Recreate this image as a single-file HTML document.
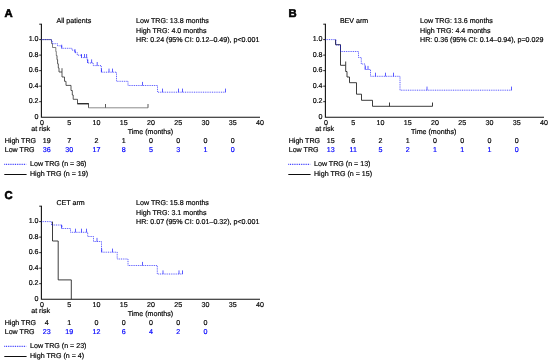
<!DOCTYPE html>
<html><head><meta charset="utf-8"><title>Figure</title>
<style>
html,body{margin:0;padding:0;background:#fff}
svg{display:block;font-family:"Liberation Sans",Arial,sans-serif;font-size:7.1px}
text{stroke:#000;stroke-width:.18px;text-rendering:geometricPrecision}
text.b{fill:#00f;stroke:#00f}
text.L{stroke-width:.6px}
</style></head><body>
<svg width="550" height="362" viewBox="0 0 550 362">
<rect width="550" height="362" fill="#fff"/>
<g>
<g transform="translate(0,0)">
<text x="4.5" y="17.1" font-weight="bold" class="L" font-size="11.3">A</text>
<text x="56.5" y="23.4">All patients</text>
<text x="136.1" y="23.4">Low TRG: 13.8 months</text>
<text x="136.1" y="32.6">High TRG: 4.0 months</text>
<text x="136.1" y="41.8">HR: 0.24 (95% CI: 0.12–0.49), p&lt;0.001</text>
<path d="M41.4 23.8V117.2H260" fill="none" stroke="#111" stroke-width="1.1"/>
<path d="M39.199999999999996 24.2H41.4" stroke="#111" stroke-width="0.9"/>
<text x="38.5" y="118.9" text-anchor="end">0</text>
<path d="M39.199999999999996 101.68H41.4" stroke="#111" stroke-width="0.9"/>
<text x="38.5" y="103.4" text-anchor="end">0.2</text>
<path d="M39.199999999999996 86.16H41.4" stroke="#111" stroke-width="0.9"/>
<text x="38.5" y="87.9" text-anchor="end">0.4</text>
<path d="M39.199999999999996 70.64H41.4" stroke="#111" stroke-width="0.9"/>
<text x="38.5" y="72.3" text-anchor="end">0.6</text>
<path d="M39.199999999999996 55.12H41.4" stroke="#111" stroke-width="0.9"/>
<text x="38.5" y="56.8" text-anchor="end">0.8</text>
<path d="M39.199999999999996 39.60H41.4" stroke="#111" stroke-width="0.9"/>
<text x="38.5" y="41.3" text-anchor="end">1.0</text>
<text x="41.9" y="125.3" text-anchor="middle">0</text>
<text x="69.2" y="125.3" text-anchor="middle">5</text>
<text x="96.4" y="125.3" text-anchor="middle">10</text>
<text x="123.7" y="125.3" text-anchor="middle">15</text>
<text x="150.9" y="125.3" text-anchor="middle">20</text>
<text x="178.2" y="125.3" text-anchor="middle">25</text>
<text x="205.4" y="125.3" text-anchor="middle">30</text>
<text x="232.7" y="125.3" text-anchor="middle">35</text>
<text x="259.9" y="125.3" text-anchor="middle">40</text>
<text x="31.2" y="131.4">at risk</text>
<text x="127.7" y="134.1">Time (months)</text>
<path d="M41.4 39.6L51.5 39.6L51.5 43.6L52.5 43.6L52.5 47.5L55.8 47.5L55.8 51.5L56.3 51.5L56.3 55.5L57.0 55.5" fill="none" stroke="#4a4a4a" stroke-width="0.7"/>
<path d="M57.0 55.5L57.0 59.7L57.6 59.7L57.6 63.8L58.3 63.8L58.3 67.9L59.0 67.9L59.0 72.0L62.0 72.0L62.0 77.0L64.5 77.0L64.5 81.3L66.0 81.3L66.0 85.4L71.0 85.4L71.0 90.5L72.3 90.5L72.3 95.0L73.2 95.0L73.2 99.3L77.5 99.3L77.5 103.5L88.5 103.5L88.5 107.8" fill="none" stroke="#222" stroke-width="0.75"/>
<path d="M62.0 72.0v-3.8M105.5 107.8v-3.8M148.0 107.8v-3.8" fill="none" stroke="#222" stroke-width="0.75"/>
<path d="M41.4 39.6L51.5 39.6L51.5 41.7L52.6 41.7L52.6 43.7L57.5 43.7L57.5 45.8L61.7 45.8L61.7 48.3L72.0 48.3L72.0 50.2L75.0 50.2L75.0 52.7L77.3 52.7L77.3 55.2L81.5 55.2L81.5 57.6L87.2 57.6L87.2 60.2L87.7 60.2L87.7 63.0L93.3 63.0L93.3 65.6L101.3 65.6L101.3 72.2L116.5 72.2L116.5 81.3L128.0 81.3L128.0 85.5L157.5 85.5L157.5 92.2L225.5 92.2L225.5 92.2" fill="none" stroke="#0000ff" stroke-width="0.9" stroke-dasharray="1 0.8" opacity="0.72"/>
<path d="M61.7 48.3v-3.6M75.1 52.9v-3.6M81.5 57.6v-3.6M84.5 57.6v-3.6M86.6 57.6v-3.6M87.7 63.0v-3.6M91.6 63.0v-3.6M97.2 65.6v-3.6M101.5 72.2v-3.6M109.0 72.2v-3.6M112.5 72.2v-3.6M142.5 85.5v-3.6M162.5 92.2v-3.6M178.5 92.2v-3.6M182.5 92.2v-3.6M225.5 92.2v-3.6" fill="none" stroke="#0000ff" stroke-width="0.8" opacity="0.8"/>
<path d="M88.5 107.8H148" fill="none" stroke="#666" stroke-width="0.75"/>
<path d="M77.3 103.8H88.7" fill="none" stroke="#222" stroke-width="1.2"/>
<text x="4.7" y="142.7">High TRG</text>
<text x="4.7" y="151.7">Low TRG</text>
<text x="46.7" y="142.7" text-anchor="middle">19</text>
<text x="46.7" y="151.7" text-anchor="middle" class="b">36</text>
<text x="69.2" y="142.7" text-anchor="middle">7</text>
<text x="69.2" y="151.7" text-anchor="middle" class="b">30</text>
<text x="96.4" y="142.7" text-anchor="middle">2</text>
<text x="96.4" y="151.7" text-anchor="middle" class="b">17</text>
<text x="123.7" y="142.7" text-anchor="middle">1</text>
<text x="123.7" y="151.7" text-anchor="middle" class="b">8</text>
<text x="150.9" y="142.7" text-anchor="middle">0</text>
<text x="150.9" y="151.7" text-anchor="middle" class="b">5</text>
<text x="178.2" y="142.7" text-anchor="middle">0</text>
<text x="178.2" y="151.7" text-anchor="middle" class="b">3</text>
<text x="205.4" y="142.7" text-anchor="middle">0</text>
<text x="205.4" y="151.7" text-anchor="middle" class="b">1</text>
<text x="232.7" y="142.7" text-anchor="middle">0</text>
<text x="232.7" y="151.7" text-anchor="middle" class="b">0</text>
<path d="M4.3 164.3H26.2" stroke="#0000ff" stroke-width="1" stroke-dasharray="0.9 0.9"/>
<text x="30.0" y="166.0">Low TRG (n = 36)</text>
<path d="M4.3 174.5H26.6" stroke="#000" stroke-width="0.95"/>
<text x="30.0" y="176.0">High TRG (n = 19)</text>
</g>
<g transform="translate(284,0)">
<text x="4.5" y="17.1" font-weight="bold" class="L" font-size="11.3">B</text>
<text x="55.9" y="23.4">BEV arm</text>
<text x="136.1" y="23.4">Low TRG: 13.6 months</text>
<text x="136.1" y="32.6">High TRG: 4.4 months</text>
<text x="136.1" y="41.8">HR: 0.36 (95% CI: 0.14–0.94), p=0.029</text>
<path d="M41.4 23.8V117.2H260" fill="none" stroke="#111" stroke-width="1.1"/>
<path d="M39.199999999999996 24.2H41.4" stroke="#111" stroke-width="0.9"/>
<text x="38.5" y="118.9" text-anchor="end">0</text>
<path d="M39.199999999999996 101.68H41.4" stroke="#111" stroke-width="0.9"/>
<text x="38.5" y="103.4" text-anchor="end">0.2</text>
<path d="M39.199999999999996 86.16H41.4" stroke="#111" stroke-width="0.9"/>
<text x="38.5" y="87.9" text-anchor="end">0.4</text>
<path d="M39.199999999999996 70.64H41.4" stroke="#111" stroke-width="0.9"/>
<text x="38.5" y="72.3" text-anchor="end">0.6</text>
<path d="M39.199999999999996 55.12H41.4" stroke="#111" stroke-width="0.9"/>
<text x="38.5" y="56.8" text-anchor="end">0.8</text>
<path d="M39.199999999999996 39.60H41.4" stroke="#111" stroke-width="0.9"/>
<text x="38.5" y="41.3" text-anchor="end">1.0</text>
<text x="41.9" y="125.3" text-anchor="middle">0</text>
<text x="69.2" y="125.3" text-anchor="middle">5</text>
<text x="96.4" y="125.3" text-anchor="middle">10</text>
<text x="123.7" y="125.3" text-anchor="middle">15</text>
<text x="150.9" y="125.3" text-anchor="middle">20</text>
<text x="178.2" y="125.3" text-anchor="middle">25</text>
<text x="205.4" y="125.3" text-anchor="middle">30</text>
<text x="232.7" y="125.3" text-anchor="middle">35</text>
<text x="259.9" y="125.3" text-anchor="middle">40</text>
<text x="31.2" y="131.4">at risk</text>
<text x="127.0" y="134.1">Time (months)</text>
<path d="M51.5 39.6L51.5 39.6L51.5 44.7L56.5 44.7L56.5 65.3L61.7 65.3L61.7 71.5L63.0 71.5L63.0 77.0L65.5 77.0L65.5 82.7L72.5 82.7L72.5 94.2L77.5 94.2L77.5 100.3L88.5 100.3L88.5 106.3L148.5 106.3L148.5 106.3" fill="none" stroke="#222" stroke-width="0.88"/>
<path d="M61.7 65.3v-3.8M105.5 106.3v-3.8M148.5 106.3v-3.8" fill="none" stroke="#222" stroke-width="0.88"/>
<path d="M41.4 39.6L52.0 39.6L52.0 45.0L56.5 45.0L56.5 51.5L74.5 51.5L74.5 57.5L77.3 57.5L77.3 64.0L81.0 64.0L81.0 69.5L86.5 69.5L86.5 76.3L116.0 76.3L116.0 90.2L227.5 90.2L227.5 90.2" fill="none" stroke="#0000ff" stroke-width="0.9" stroke-dasharray="1 0.8" opacity="0.72"/>
<path d="M81.3 69.5v-3.6M84.0 69.5v-3.6M91.5 76.3v-3.6M101.5 76.3v-3.6M109.5 76.3v-3.6M143.0 90.2v-3.6M227.5 90.2v-3.6" fill="none" stroke="#0000ff" stroke-width="0.8" opacity="0.8"/>
<text x="4.7" y="142.7">High TRG</text>
<text x="4.7" y="151.7">Low TRG</text>
<text x="46.7" y="142.7" text-anchor="middle">15</text>
<text x="46.7" y="151.7" text-anchor="middle" class="b">13</text>
<text x="69.2" y="142.7" text-anchor="middle">6</text>
<text x="69.2" y="151.7" text-anchor="middle" class="b">11</text>
<text x="96.4" y="142.7" text-anchor="middle">2</text>
<text x="96.4" y="151.7" text-anchor="middle" class="b">5</text>
<text x="123.7" y="142.7" text-anchor="middle">1</text>
<text x="123.7" y="151.7" text-anchor="middle" class="b">2</text>
<text x="150.9" y="142.7" text-anchor="middle">0</text>
<text x="150.9" y="151.7" text-anchor="middle" class="b">1</text>
<text x="178.2" y="142.7" text-anchor="middle">0</text>
<text x="178.2" y="151.7" text-anchor="middle" class="b">1</text>
<text x="205.4" y="142.7" text-anchor="middle">0</text>
<text x="205.4" y="151.7" text-anchor="middle" class="b">1</text>
<text x="232.7" y="142.7" text-anchor="middle">0</text>
<text x="232.7" y="151.7" text-anchor="middle" class="b">0</text>
<path d="M4.3 164.3H26.2" stroke="#0000ff" stroke-width="1" stroke-dasharray="0.9 0.9"/>
<text x="30.0" y="166.0">Low TRG (n = 13)</text>
<path d="M4.3 174.5H26.6" stroke="#000" stroke-width="0.95"/>
<text x="30.0" y="176.0">High TRG (n = 15)</text>
</g>
<g transform="translate(0,182)">
<text x="4.5" y="17.1" font-weight="bold" class="L" font-size="11.3">C</text>
<text x="56.5" y="23.4">CET arm</text>
<text x="136.1" y="23.4">Low TRG: 15.8 months</text>
<text x="136.1" y="32.6">High TRG: 3.1 months</text>
<text x="136.1" y="41.8">HR: 0.07 (95% CI: 0.01–0.32), p&lt;0.001</text>
<path d="M41.4 23.8V117.2H260" fill="none" stroke="#111" stroke-width="1.1"/>
<path d="M39.199999999999996 24.2H41.4" stroke="#111" stroke-width="0.9"/>
<text x="38.5" y="118.9" text-anchor="end">0</text>
<path d="M39.199999999999996 101.68H41.4" stroke="#111" stroke-width="0.9"/>
<text x="38.5" y="103.4" text-anchor="end">0.2</text>
<path d="M39.199999999999996 86.16H41.4" stroke="#111" stroke-width="0.9"/>
<text x="38.5" y="87.9" text-anchor="end">0.4</text>
<path d="M39.199999999999996 70.64H41.4" stroke="#111" stroke-width="0.9"/>
<text x="38.5" y="72.3" text-anchor="end">0.6</text>
<path d="M39.199999999999996 55.12H41.4" stroke="#111" stroke-width="0.9"/>
<text x="38.5" y="56.8" text-anchor="end">0.8</text>
<path d="M39.199999999999996 39.60H41.4" stroke="#111" stroke-width="0.9"/>
<text x="38.5" y="41.3" text-anchor="end">1.0</text>
<text x="41.9" y="125.3" text-anchor="middle">0</text>
<text x="69.2" y="125.3" text-anchor="middle">5</text>
<text x="96.4" y="125.3" text-anchor="middle">10</text>
<text x="123.7" y="125.3" text-anchor="middle">15</text>
<text x="150.9" y="125.3" text-anchor="middle">20</text>
<text x="178.2" y="125.3" text-anchor="middle">25</text>
<text x="205.4" y="125.3" text-anchor="middle">30</text>
<text x="232.7" y="125.3" text-anchor="middle">35</text>
<text x="259.9" y="125.3" text-anchor="middle">40</text>
<text x="31.2" y="131.4">at risk</text>
<text x="127.7" y="134.1">Time (months)</text>
<path d="M52.5 39.6L52.5 39.6L52.5 59.0L58.2 59.0L58.2 97.9L71.3 97.9L71.3 117.2" fill="none" stroke="#222" stroke-width="0.88"/>
<path d="M41.4 39.6L51.5 39.6L51.5 43.0L62.0 43.0L62.0 46.5L70.5 46.5L70.5 50.3L87.7 50.3L87.7 54.5L93.5 54.5L93.5 59.5L101.5 59.5L101.5 70.2L117.2 70.2L117.2 77.0L128.0 77.0L128.0 83.5L157.3 83.5L157.3 92.0L182.5 92.0L182.5 92.0" fill="none" stroke="#0000ff" stroke-width="0.9" stroke-dasharray="1 0.8" opacity="0.72"/>
<path d="M61.5 46.5v-3.6M75.5 50.3v-3.6M81.5 50.3v-3.6M86.5 50.3v-3.6M97.0 59.5v-3.6M101.7 70.2v-3.6M112.5 70.2v-3.6M142.5 83.5v-3.6M163.0 92.0v-3.6M179.0 92.0v-3.6M182.5 92.0v-3.6" fill="none" stroke="#0000ff" stroke-width="0.8" opacity="0.8"/>
<text x="4.7" y="142.7">High TRG</text>
<text x="4.7" y="151.7">Low TRG</text>
<text x="46.7" y="142.7" text-anchor="middle">4</text>
<text x="46.7" y="151.7" text-anchor="middle" class="b">23</text>
<text x="69.2" y="142.7" text-anchor="middle">1</text>
<text x="69.2" y="151.7" text-anchor="middle" class="b">19</text>
<text x="96.4" y="142.7" text-anchor="middle">0</text>
<text x="96.4" y="151.7" text-anchor="middle" class="b">12</text>
<text x="123.7" y="142.7" text-anchor="middle">0</text>
<text x="123.7" y="151.7" text-anchor="middle" class="b">6</text>
<text x="150.9" y="142.7" text-anchor="middle">0</text>
<text x="150.9" y="151.7" text-anchor="middle" class="b">4</text>
<text x="178.2" y="142.7" text-anchor="middle">0</text>
<text x="178.2" y="151.7" text-anchor="middle" class="b">2</text>
<text x="205.4" y="142.7" text-anchor="middle">0</text>
<text x="205.4" y="151.7" text-anchor="middle" class="b">0</text>
<path d="M4.3 164.3H26.2" stroke="#0000ff" stroke-width="1" stroke-dasharray="0.9 0.9"/>
<text x="30.0" y="166.0">Low TRG (n = 23)</text>
<path d="M4.3 174.5H26.6" stroke="#000" stroke-width="0.95"/>
<text x="30.0" y="176.0">High TRG (n = 4)</text>
</g>
</g>
</svg>
</body></html>
